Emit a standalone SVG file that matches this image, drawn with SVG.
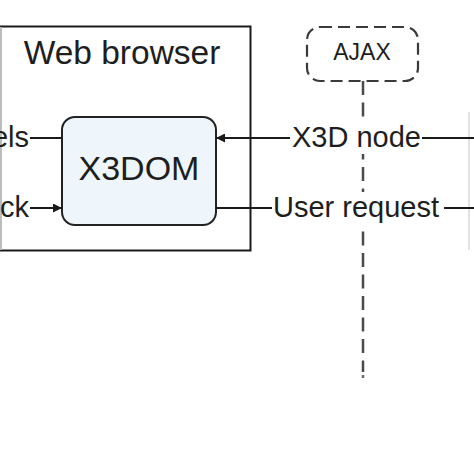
<svg xmlns="http://www.w3.org/2000/svg" width="474" height="474" viewBox="0 0 474 474">
<style>
.t{font-family:"Liberation Sans",Arial,sans-serif;fill:#1e1e1e}
.ln{stroke:#1a1a1a;stroke-width:2;fill:none}
.bg{fill:#ffffff}
</style>
<defs>
<marker id="ah" viewBox="0 0 10 10" refX="10" refY="5" markerWidth="9" markerHeight="9" markerUnits="userSpaceOnUse" orient="auto">
<path d="M0,0 L10,5 L0,10 z" fill="#1a1a1a"/>
</marker>
</defs>
<rect width="474" height="474" fill="#ffffff"/>
<g id="web-browser">
<rect x="1" y="26.5" width="249.5" height="224" fill="none" stroke="#1a1a1a" stroke-width="2"/>
<line x1="1" y1="27" x2="1" y2="250" stroke="#bdbdbd" stroke-width="2"/>
<text class="t" x="122" y="64" font-size="33.5" text-anchor="middle">Web browser</text>
</g>
<g id="x3dom">
<rect x="62" y="117" width="154" height="108" rx="13" ry="13" fill="#eef6fb" stroke="#222" stroke-width="2"/>
<text class="t" x="139" y="180" font-size="34" text-anchor="middle">X3DOM</text>
</g>
<g id="ajax">
<rect x="307" y="27" width="111" height="54" rx="13" ry="13" fill="none" stroke="#3a3a3a" stroke-width="2.2" stroke-dasharray="12,6"/>
<text class="t" x="362" y="60" font-size="23" text-anchor="middle">AJAX</text>
</g>
<g id="right-box">
<line x1="469" y1="112" x2="469" y2="250" stroke="#d8d8d8" stroke-width="1.5"/>
</g>
<g id="connectors">
<line x1="363" y1="81" x2="363" y2="372" stroke="#4a4a4a" stroke-width="2.5" stroke-dasharray="14,7.5"/>
<line x1="363" y1="375" x2="363" y2="378" stroke="#6a6a6a" stroke-width="2.5"/>
<line class="ln" x1="30" y1="138" x2="62" y2="138"/>
<line class="ln" x1="30" y1="208" x2="62" y2="208" marker-end="url(#ah)"/>
<line class="ln" x1="290" y1="138" x2="216" y2="138" marker-end="url(#ah)"/>
<line class="ln" x1="422" y1="138" x2="474" y2="138"/>
<line class="ln" x1="216" y1="208" x2="272" y2="208"/>
<line class="ln" x1="444" y1="208" x2="474" y2="208"/>
</g>
<g id="labels">
<text class="t" x="29" y="147" font-size="29" text-anchor="end">els</text>
<text class="t" x="29" y="217" font-size="29" text-anchor="end">ck</text>
<rect class="bg" x="291" y="122" width="131" height="32"/>
<text class="t" x="292" y="147" font-size="29">X3D node</text>
<rect class="bg" x="272" y="192" width="172" height="32"/>
<text class="t" x="273" y="217" font-size="29">User request</text>
</g>
</svg>
